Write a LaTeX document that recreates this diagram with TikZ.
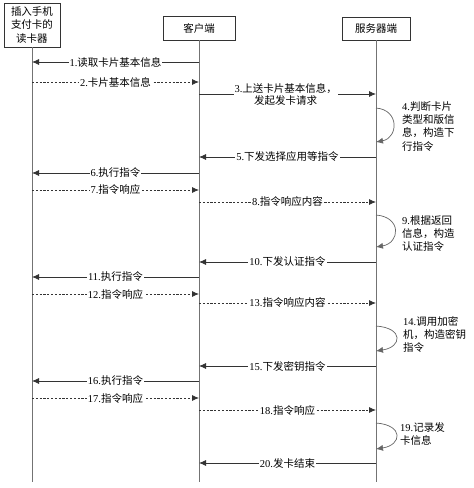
\documentclass[tikz,border=0pt]{standalone}
\usepackage{fontspec}
\setmainfont{Liberation Serif}
\newfontfamily\cj{Noto Sans CJK SC}
\newcommand\nr[1]{{\rmfamily #1}}
\usetikzlibrary{arrows.meta}
\begin{document}
\begin{tikzpicture}[x=1pt,y=-1pt,
  box/.style={draw=black!80, line width=0.8pt, align=center, font=\cj\fontsize{10.5}{13.5}\selectfont, inner sep=0pt},
  life/.style={draw=black!55, line width=0.8pt},
  msg/.style={draw=black!80, line width=0.8pt, -{Latex[length=7pt,width=6pt]}},
  rsp/.style={msg, dash pattern=on 2.2pt off 1.6pt},
  self/.style={draw=black!60, line width=0.7pt, -{Latex[length=7pt,width=6pt]}},
  lbl/.style={fill=white, inner sep=1pt, align=center, font=\cj\fontsize{10.5}{12}\selectfont},
  note/.style={anchor=north west, align=left, inner sep=0pt, font=\cj\fontsize{10.5}{13.4}\selectfont}
]
\useasboundingbox (0,0) rectangle (474,488);

% participants
\node[box, minimum width=56pt, minimum height=44pt] (rd) at (32,25) {插入手机\\支付卡的\\读卡器};
\node[box, minimum width=72pt, minimum height=24pt] (cl) at (199,28) {客户端};
\node[box, minimum width=68pt, minimum height=23pt] (sv) at (376,28.5) {服务器端};

% lifelines
\coordinate (rdE) at (32,482);
\coordinate (clE) at (199,482);
\coordinate (svE) at (376,482);
\draw[life] (rd.south) -- (rdE);
\draw[life] (cl.south) -- (clE);
\draw[life] (sv.south) -- (svE);

% messages
\draw[msg] (cl |- 0,62) -- node[lbl]{\nr{1.}读取卡片基本信息} (rd |- 0,62);
\draw[rsp] (rd |- 0,82) -- node[lbl]{\nr{2.}卡片基本信息} (cl |- 0,82);
\draw[msg] (cl |- 0,94) -- node[lbl, pos=0.49]{\nr{3.}上送卡片基本信息，\\发起发卡请求} (sv |- 0,94);
\draw[self] (sv |- 0,108) .. controls +(24,2) and +(22,-4) .. (sv |- 0,142);
\node[note] (n4) at (402,101) {\nr{4.}判断卡片\\类型和版信\\息，构造下\\行指令};
\draw[msg] (sv |- 0,157) -- node[lbl]{\nr{5.}下发选择应用等指令} (cl |- 0,157);
\draw[msg] (cl |- 0,173) -- node[lbl]{\nr{6.}执行指令} (rd |- 0,173);
\draw[rsp] (rd |- 0,190) -- node[lbl]{\nr{7.}指令响应} (cl |- 0,190);
\draw[rsp] (cl |- 0,202) -- node[lbl]{\nr{8.}指令响应内容} (sv |- 0,202);
\draw[self] (sv |- 0,215) .. controls +(26,2) and +(24,-4) .. (sv |- 0,247);
\node[note] (n9) at (402,215) {\nr{9.}根据返回\\信息，构造\\认证指令};
\draw[msg] (sv |- 0,262) -- node[lbl]{\nr{10.}下发认证指令} (cl |- 0,262);
\draw[msg] (cl |- 0,277) -- node[lbl]{\nr{11.}执行指令} (rd |- 0,277);
\draw[rsp] (rd |- 0,294) -- node[lbl]{\nr{12.}指令响应} (cl |- 0,294);
\draw[rsp] (cl |- 0,303) -- node[lbl]{\nr{13.}指令响应内容} (sv |- 0,303);
\draw[self] (sv |- 0,326) .. controls +(28,2) and +(26,-4) .. (sv |- 0,351);
\node[note] (n14) at (403,316) {\nr{14.}调用加密\\机，构造密钥\\指令};
\draw[msg] (sv |- 0,366) -- node[lbl]{\nr{15.}下发密钥指令} (cl |- 0,366);
\draw[msg] (cl |- 0,381) -- node[lbl]{\nr{16.}执行指令} (rd |- 0,381);
\draw[rsp] (rd |- 0,398) -- node[lbl]{\nr{17.}指令响应} (cl |- 0,398);
\draw[rsp] (cl |- 0,410) -- node[lbl]{\nr{18.}指令响应} (sv |- 0,410);
\draw[self] (sv |- 0,423) .. controls +(28,2) and +(26,-4) .. (sv |- 0,449);
\node[note] (n19) at (400,422) {\nr{19.}记录发\\卡信息};
\draw[msg] (sv |- 0,463) -- node[lbl]{\nr{20.}发卡结束} (cl |- 0,463);
\end{tikzpicture}
\end{document}
